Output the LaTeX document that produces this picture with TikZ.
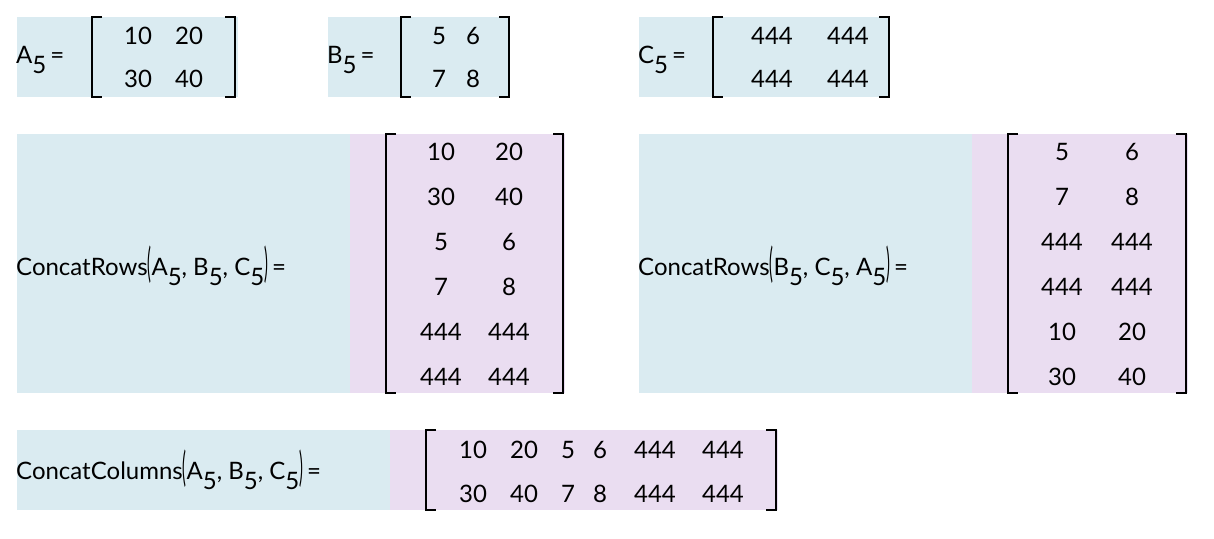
\documentclass[tikz,border=0pt]{standalone}
\usepackage{fontspec}
\setmainfont{Lato}
\usepackage{graphicx}
\definecolor{bgb}{HTML}{DAEBF1}
\definecolor{bgp}{HTML}{EADDF1}
\newcommand{\sbb}[1]{\raisebox{-0.42em}{#1}}
\newcommand{\lpar}{\raisebox{-0.1em}{\scalebox{0.6}[1.7]{\fontseries{l}\selectfont(}}}
\newcommand{\rpar}{\raisebox{-0.1em}{\scalebox{0.6}[1.7]{\fontseries{l}\selectfont)}}}
\newcommand{\mbrk}[4]{% left x, right x, top y, bottom y
  \draw[brk] (#1+10,#3) -- (#1,#3) -- (#1,#4) -- (#1+10,#4);
  \draw[brk] (#2-10,#3) -- (#2,#3) -- (#2,#4) -- (#2-10,#4);}
\begin{document}
\begin{tikzpicture}[x=1pt,y=-1pt,
  every node/.style={font=\fontsize{24}{28}\selectfont, inner sep=0pt},
  lbl/.style={anchor=west},
  brk/.style={line width=1.4pt}]
\useasboundingbox (0,0) rectangle (1214,538);
\fill[white] (0,0) rectangle (1214,538);
% backgrounds
\fill[bgb] (17,17) rectangle (238,97);
\fill[bgb] (328,17) rectangle (510,97);
\fill[bgb] (639,17) rectangle (890,97);
\fill[bgb] (17,134) rectangle (350,393);
\fill[bgp] (350,134) rectangle (565,393);
\fill[bgb] (639,134) rectangle (972,393);
\fill[bgp] (972,134) rectangle (1188,393);
\fill[bgb] (17,430) rectangle (390,510);
\fill[bgp] (390,430) rectangle (778,510);
% brackets
\mbrk{92}{235}{17}{97}
\mbrk{401}{509}{17}{97}
\mbrk{713}{889}{17}{97}
\mbrk{386}{563}{134}{393}
\mbrk{1008}{1186}{134}{393}
\mbrk{426}{776}{430}{510}
% labels
\node[lbl] (la) at (16,60) {A\sbb{5}\,=};
\node[lbl] (lb) at (327,60) {B\sbb{5}\,=};
\node[lbl] (lc) at (638,60) {C\sbb{5}\,=};
\node[lbl] (l1) at (16,266) {ConcatRows\lpar A\sbb{5}, B\sbb{5}, C\sbb{5}\rpar\,=};
\node[lbl] (l2) at (638,266) {ConcatRows\lpar B\sbb{5}, C\sbb{5}, A\sbb{5}\rpar\,=};
\node[lbl] (l3) at (16,470) {ConcatColumns\lpar A\sbb{5}, B\sbb{5}, C\sbb{5}\rpar\,=};
% A5
\node (a11) at (138,36) {10}; \node (a12) at (189,36) {20};
\node (a21) at (138,79) {30}; \node (a22) at (189,79) {40};
% B5
\node (b11) at (439,36) {5}; \node (b12) at (473,36) {6};
\node (b21) at (439,79) {7}; \node (b22) at (473,79) {8};
% C5
\node (c11) at (772,36) {444}; \node (c12) at (848,36) {444};
\node (c21) at (772,79) {444}; \node (c22) at (848,79) {444};
% ConcatRows 1
\foreach \a/\b/\y [count=\i] in {10/20/152,30/40/197,5/6/242,7/8/287,444/444/332,444/444/377}{
  \node (r\i a) at (441,\y) {\a};
  \node (r\i b) at (509,\y) {\b};}
% ConcatRows 2
\foreach \a/\b/\y [count=\i] in {5/6/152,7/8/197,444/444/242,444/444/287,10/20/332,30/40/377}{
  \node (s\i a) at (1062,\y) {\a};
  \node (s\i b) at (1132,\y) {\b};}
% ConcatColumns
\foreach \a/\b/\c/\d/\e/\f/\y [count=\i] in {10/20/5/6/444/444/450,30/40/7/8/444/444/494}{
  \node (t\i a) at (473,\y) {\a}; \node (t\i b) at (524,\y) {\b};
  \node (t\i c) at (568,\y) {\c}; \node (t\i d) at (600,\y) {\d};
  \node (t\i e) at (655,\y) {\e}; \node (t\i f) at (723,\y) {\f};}
\end{tikzpicture}
\end{document}
